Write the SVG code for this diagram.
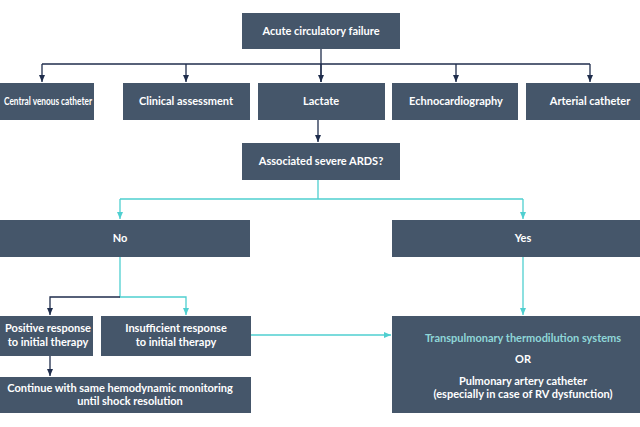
<svg xmlns="http://www.w3.org/2000/svg" width="640" height="427" viewBox="0 0 640 427">
<style>
.b{fill:#45566a}
text{font-family:Lato,"Liberation Sans",sans-serif;font-weight:bold;font-size:11px;fill:#fff;text-anchor:middle}
.d{stroke:#1f2d4c;stroke-width:1.3;fill:none}
.t{stroke:#4fcfd0;stroke-width:1.3;fill:none}
</style>
<defs>
<marker id="ad" markerWidth="8" markerHeight="8" refX="7" refY="4" orient="auto" markerUnits="userSpaceOnUse"><path d="M0,1 L7,4 L0,7z" fill="#1f2d4c"/></marker>
<marker id="at" markerWidth="8" markerHeight="8" refX="7" refY="4" orient="auto" markerUnits="userSpaceOnUse"><path d="M0,1 L7,4 L0,7z" fill="#4fcfd0"/></marker>
</defs>
<rect width="640" height="427" fill="#fff"/>
<g id="connectors">
<path class="d" d="M321,49 V82"/>
<path class="d" d="M42,64 H590"/>
<path class="d" d="M42,64 V82" marker-end="url(#ad)"/>
<path class="d" d="M186,64 V82" marker-end="url(#ad)"/>
<path class="d" d="M321,64 V82" marker-end="url(#ad)"/>
<path class="d" d="M456,64 V82" marker-end="url(#ad)"/>
<path class="d" d="M590,64 V82" marker-end="url(#ad)"/>
<path class="d" d="M318,120 V142" marker-end="url(#ad)"/>
<path class="t" d="M318,180 V199 M120,199 H523"/>
<path class="t" d="M120,199 V219" marker-end="url(#at)"/>
<path class="t" d="M523,199 V219" marker-end="url(#at)"/>
<path class="t" d="M120,257 V297 H186 V315" marker-end="url(#at)"/>
<path class="d" d="M120,297 H50 V315" marker-end="url(#ad)"/>
<path class="t" d="M523,257 V315" marker-end="url(#at)"/>
<path class="t" d="M251,335 H391" marker-end="url(#at)"/>
<path class="d" d="M50,356 V376" marker-end="url(#ad)"/>
</g>
<g id="n1"><rect class="b" x="242" y="13" width="158" height="36"/><text x="321" y="35">Acute circulatory failure</text></g>
<g id="n2"><rect class="b" x="-10" y="83" width="104" height="37"/><text x="48" y="105" textLength="88" lengthAdjust="spacingAndGlyphs">Central venous catheter</text></g>
<g id="n3"><rect class="b" x="123" y="83" width="127" height="37"/><text x="186" y="105">Clinical assessment</text></g>
<g id="n4"><rect class="b" x="258" y="83" width="127" height="37"/><text x="321" y="105">Lactate</text></g>
<g id="n5"><rect class="b" x="392" y="83" width="126" height="37"/><text x="456" y="105">Echnocardiography</text></g>
<g id="n6"><rect class="b" x="526" y="83" width="120" height="37"/><text x="590" y="105">Arterial catheter</text></g>
<g id="n7"><rect class="b" x="242" y="143" width="158" height="37"/><text x="321" y="165">Associated severe ARDS?</text></g>
<g id="n8"><rect class="b" x="0" y="220" width="250" height="37"/><text x="120" y="242">No</text></g>
<g id="n9"><rect class="b" x="392" y="220" width="248" height="37"/><text x="523" y="242">Yes</text></g>
<g id="n10"><rect class="b" x="0" y="316" width="93" height="40"/><text x="48" y="332">Positive response</text><text x="48" y="346">to initial therapy</text></g>
<g id="n11"><rect class="b" x="101" y="316" width="150" height="40"/><text x="176" y="332">Insufficient response</text><text x="176" y="346">to initial therapy</text></g>
<g id="n12"><rect class="b" x="0" y="377" width="251" height="36"/><text x="120" y="392">Continue with same hemodynamic monitoring</text><text x="130" y="405">until shock resolution</text></g>
<g id="n13"><rect class="b" x="392" y="316" width="248" height="97"/><text x="523" y="342" style="fill:#8fd6d8">Transpulmonary thermodilution systems</text><text x="523" y="363">OR</text><text x="523" y="385">Pulmonary artery catheter</text><text x="523" y="398">(especially in case of RV dysfunction)</text></g>
</svg>
